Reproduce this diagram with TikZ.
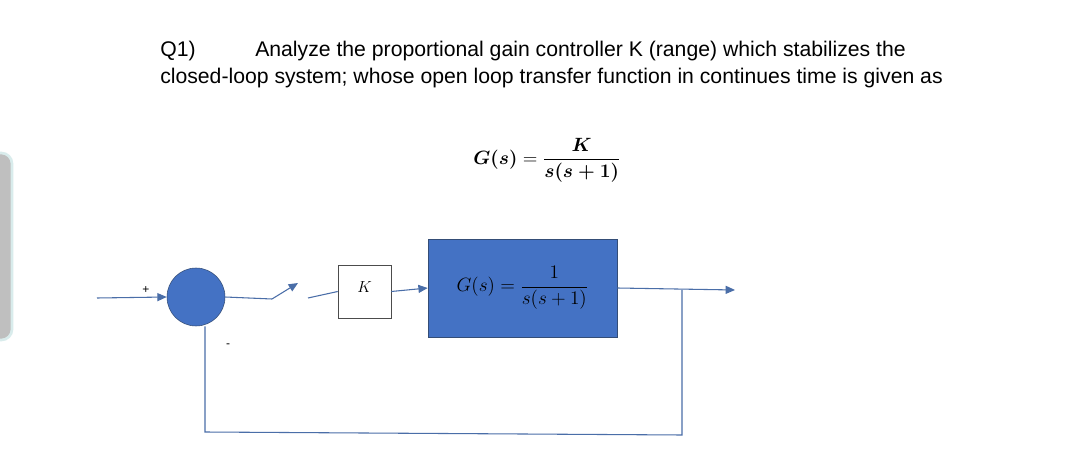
\documentclass[tikz,border=0pt]{standalone}
\usepackage{fontspec}
\setmainfont{Liberation Sans}
\usepackage{amsmath}
\usetikzlibrary{arrows.meta}
\definecolor{blu}{HTML}{4472C4}
\definecolor{ln}{HTML}{4A6EA8}
\tikzset{wire/.style={draw=ln,line width=0.8pt},
 arr/.style={wire,-{Triangle[length=7pt,width=6pt]},},
 q/.style={font=\fontsize{15.9}{18}\selectfont,anchor=base west,inner sep=0}}
\begin{document}
\begin{tikzpicture}[x=0.75pt,y=-0.75pt]
\useasboundingbox (0,0) rectangle (1080,466);
\fill[white] (0,0) rectangle (1080,466);
\draw[fill=gray!50,draw=teal!15,line width=2pt,rounded corners=8pt] (-20,153) rectangle (12,340);
\node[q] (q1) at (160,57) {Q1)};
\node[q] (t1) at (255,57) {Analyze the proportional gain controller K (range) which stabilizes the};
\node[q] (t2) at (160,84) {closed-loop system; whose open loop transfer function in continues time is given as};
\node (eq) at (547,160) {\fontsize{14.5}{17}\selectfont$\boldsymbol{G(s)}=\dfrac{\boldsymbol{K}}{\boldsymbol{s(s+1)}}$};
\node[circle,fill=blu,draw=ln!70!black,minimum size=43.5pt,inner sep=0] (sum) at (196,297) {};
\coordinate (in) at (97,298);
\node at (146,290) {\small +};
\node at (228,346) {\small -};
\coordinate (s1) at (272,299);
\coordinate (s2) at (298,283);
\coordinate (s3) at (308,298);
\node[draw=black!70,fill=white,minimum width=39.75pt,minimum height=39.75pt,inner sep=0] (k) at (364.5,291.5) {\raisebox{6pt}{\fontsize{13}{15}\selectfont$K$}};
\node[draw=ln!70!black,fill=blu,minimum width=141.75pt,minimum height=73.5pt,inner sep=0] (g) at (522.5,288) {\fontsize{14}{17}\selectfont$G(s)=\dfrac{1}{s(s+1)}$};
\coordinate (out) at (735,290);
\coordinate (b1) at (682,290);
\coordinate (b2) at (682,435);
\coordinate (b3) at (205,432);
\draw[arr] (in) -- (sum.west);
\draw[wire] (sum.east) -- (s1);
\draw[arr] (s1) -- (s2);
\draw[wire] (s3) -- (k.west);
\draw[arr] (k.east) -- (g.west);
\draw[arr] (g.east) -- (out);
\draw[wire] (b1) -- (b2) -- (b3) -- (b3 |- sum.south);
\end{tikzpicture}
\end{document}
